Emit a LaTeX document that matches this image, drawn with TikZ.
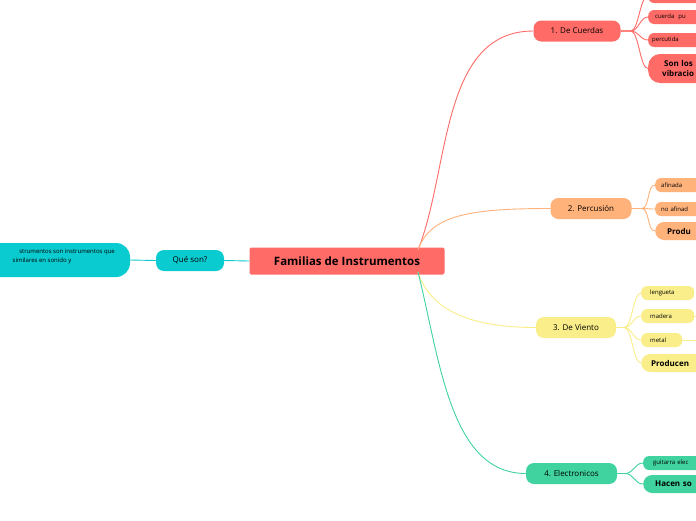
\documentclass[tikz,border=0pt]{standalone}
\usepackage{fontspec}
\setmainfont{Open Sans}
\definecolor{cred}{HTML}{FF6B66}
\definecolor{cteal}{HTML}{0ACBD0}
\definecolor{corange}{HTML}{FFB27A}
\definecolor{cyellow}{HTML}{F9EE8A}
\definecolor{cgreen}{HTML}{40D3A0}
\begin{document}
\begin{tikzpicture}[x=1pt,y=-1pt,
  pill/.style={rounded corners=8pt,inner sep=0pt,align=center},
  branch/.style={pill,minimum height=21pt,font=\fontsize{8}{9}\selectfont},
  leaf/.style={pill,rounded corners=6pt,anchor=west,minimum height=14pt,minimum width=70pt,font=\fontsize{6}{7}\selectfont,align=left,text width=62pt},
  bleaf/.style={pill,rounded corners=9pt,anchor=west,minimum height=18pt,minimum width=70pt,font=\bfseries\fontsize{8}{10}\selectfont,align=left,text width=62pt},
  conn/.style={line width=0.9pt}]
\useasboundingbox (0,0) rectangle (696,520);
\clip (0,0) rectangle (696,520);
\fill[white] (0,0) rectangle (696,520);
% central
\node[pill,rounded corners=2pt,fill=cred,minimum width=195pt,minimum height=27pt,font=\bfseries\fontsize{11.5}{13}\selectfont] (c) at (347,261) {Familias de Instrumentos};
% left
\node[branch,fill=cteal,minimum width=68pt] (q) at (190,260.5) {Qué son?};
\node[pill,rounded corners=14pt,fill=cteal,minimum width=230pt,minimum height=34pt] (d) at (15,260) {};
\node[font=\fontsize{6}{7}\selectfont,inner sep=0pt,anchor=east] (d1) at (115,252) {strumentos son instrumentos que};
\node[font=\fontsize{6}{7}\selectfont,inner sep=0pt] (d2) at (42,261) {similares en sonido y};
\draw[cteal,conn] (c.west) -- (q.east);
\draw[cteal,conn] (q.west) -- (d.east);
% branches
\node[branch,fill=cred,minimum width=87pt] (b1) at (577,31) {1. De Cuerdas};
\node[branch,fill=corange,minimum width=81pt] (b2) at (591,208.5) {2. Percusión};
\node[branch,fill=cyellow,minimum width=80pt] (b3) at (576,327.5) {3. De Viento};
\node[branch,fill=cgreen,minimum width=91pt] (b4) at (571.5,473.5) {4. Electronicos};
\coordinate (o1) at (418,250);
\coordinate (o2) at (418,272);
\draw[cred,conn] (o1) .. controls (450,170) and (440,31) .. (b1.west);
\draw[corange,conn] (o1) .. controls (430,215) and (470,208.5) .. (b2.west);
\draw[cyellow,conn] (o2) .. controls (430,310) and (470,327.5) .. (b3.west);
\draw[cgreen,conn] (o2) .. controls (440,360) and (450,473.5) .. (b4.west);
% leaves cuerdas
\node[leaf,fill=cred] (l10) at (648,-4) {};
\node[leaf,fill=cred] (l11) at (648,17) {\hspace*{3pt}cuerda\ \ pu};
\node[leaf,fill=cred] (l12) at (648,40) {percutida};
\node[bleaf,fill=cred,minimum height=29pt,rounded corners=12pt] (l13) at (648,68.5) {\hspace*{12pt}Son los\\\hspace*{10pt}vibracio};
% percusion
\node[leaf,fill=corange] (l21) at (655,185) {\hspace*{2pt}afinada};
\node[leaf,fill=corange] (l22) at (655,209) {\hspace*{2pt}no afinad};
\node[bleaf,fill=corange] (l23) at (655,231) {\hspace*{8pt}Produ};
% viento
\node[leaf,fill=cyellow,minimum width=53pt,text width=45pt] (l31) at (641,293) {\hspace*{5pt}lengueta};
\node[leaf,fill=cyellow,minimum width=53pt,text width=45pt] (l32) at (641,316) {\hspace*{5pt}madera};
\node[leaf,fill=cyellow,minimum width=41pt,text width=33pt] (l33) at (641,340) {\hspace*{5pt}metal};
\node[bleaf,fill=cyellow] (l34) at (641,363) {\hspace*{6pt}Producen};
\draw[cyellow,conn] (l32.east) -- (696,316);
\draw[cyellow,conn] (l33.east) -- (696,340);
% electronicos
\node[leaf,fill=cgreen] (l41) at (643,463) {\hspace*{6pt}guitarra elec};
\node[bleaf,fill=cgreen] (l42) at (643,484) {\hspace*{8pt}Hacen so};
% leaf connectors
\foreach \b/\l in {b1/l10,b1/l11,b1/l12,b1/l13}{\draw[cred,conn] (\b.east) -- ++(10,0) .. controls +(8,0) and +(-8,0) .. (\l.west);}
\foreach \b/\l in {b2/l21,b2/l22,b2/l23}{\draw[corange,conn] (\b.east) -- ++(10,0) .. controls +(8,0) and +(-8,0) .. (\l.west);}
\foreach \b/\l in {b3/l31,b3/l32,b3/l33,b3/l34}{\draw[cyellow,conn] (\b.east) -- ++(8,0) .. controls +(8,0) and +(-8,0) .. (\l.west);}
\foreach \b/\l in {b4/l41,b4/l42}{\draw[cgreen,conn] (\b.east) -- ++(8,0) .. controls +(8,0) and +(-8,0) .. (\l.west);}
\end{tikzpicture}
\end{document}
